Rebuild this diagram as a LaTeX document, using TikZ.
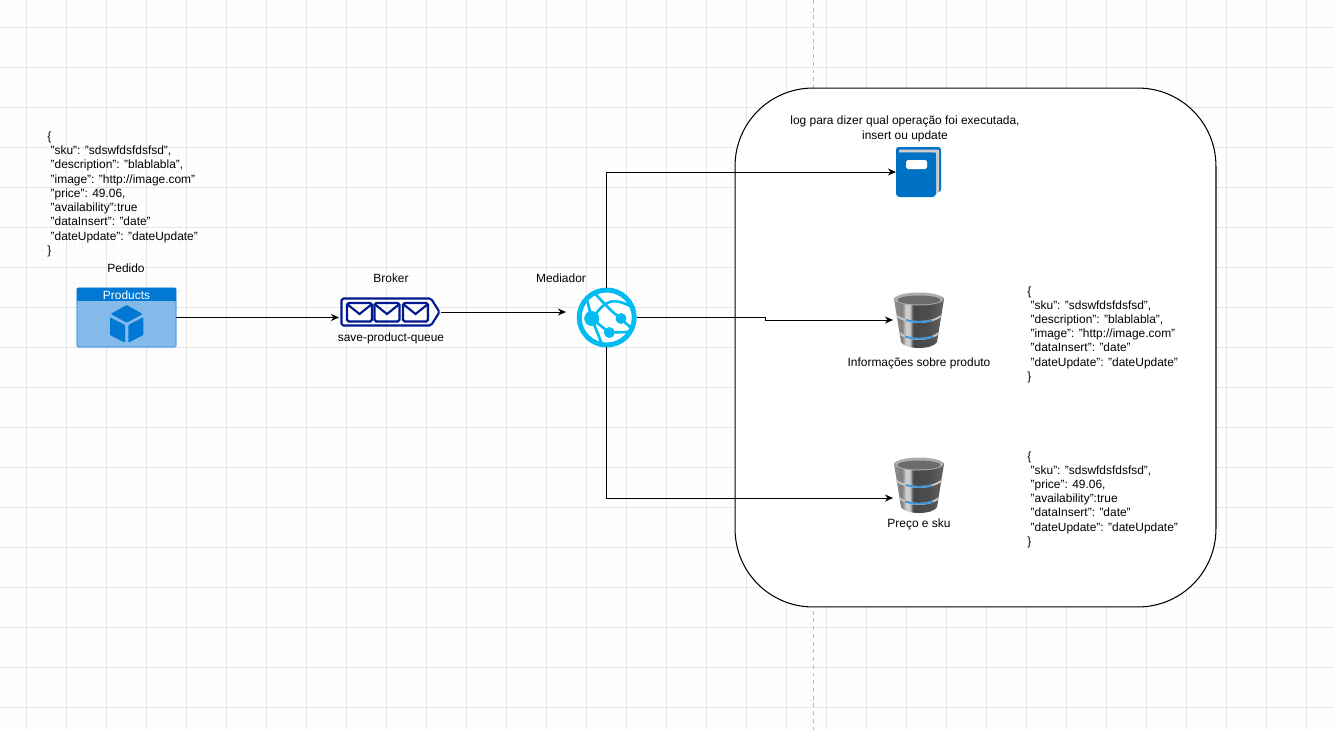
\documentclass[tikz,border=0pt]{standalone}
\usepackage{xcolor}
\usepackage{fontspec}
\setmainfont{Liberation Sans}
\usetikzlibrary{positioning, arrows.meta}

\definecolor{gradeforte}{HTML}{E6E6E6}
\definecolor{gradefraca}{HTML}{F9F9F9}
\definecolor{azulcaixa}{HTML}{0078D4}
\definecolor{azulclaro}{HTML}{83BAEA}
\definecolor{azulborda}{HTML}{5BA5E6}
\definecolor{azulfila}{HTML}{00188F}
\definecolor{azulglobo}{HTML}{00BCF2}
\definecolor{azullivro}{HTML}{0072C6}
\definecolor{azulbanco}{HTML}{3C96DC}

\pgfdeclarehorizontalshading{bancocorpo}{100bp}{
	color(0bp)=(black!42); color(25bp)=(black!45); color(33bp)=(black!50);
	color(37bp)=(black!18); color(41bp)=(black!22); color(44bp)=(black!72);
	color(60bp)=(black!70); color(80bp)=(black!58); color(100bp)=(black!42)}

\tikzset{
	texto/.style={font=\fontsize{6.8}{8.1}\selectfont, inner sep=0pt, text=black},
	json/.style={texto, align=left, anchor=north west},
	seta/.style={-{Stealth[length=4.6pt,width=4pt]}, line width=0.55pt},
	icone/.style={inner sep=0pt, outer sep=0pt},
	pics/banco/.style={code={
		\shade[shading=bancocorpo] (-25,-21) .. controls (-25,-27) and (25,-27) .. (25,-21)
			-- (18,22) .. controls (14,30) and (-14,30) .. (-18,22) -- cycle;
		\fill[black!32] (0,-21) ellipse (24.5 and 6.5);
		\fill[black!58] (0,-20) ellipse (21.5 and 4.5);
		\draw[black!22, line width=1.1pt] (-22.5,-4) .. controls (-10,4) and (10,4) .. (22.5,-4);
		\draw[black!22, line width=1.1pt] (-20,13) .. controls (-10,21) and (10,21) .. (20,13);
		\draw[azulbanco, line width=1.1pt] (-13,0) .. controls (-4,2.5) and (4,2.5) .. (13,0);
		\draw[azulbanco, line width=1.1pt] (-14,16.5) .. controls (-4,19.5) and (4,19.5) .. (14,16.5);
	}}
}

\begin{document}
\begin{tikzpicture}[x=0.02cm, y=-0.02cm]
	\useasboundingbox (0,0) rectangle (1334,730);
	\fill[white] (0,0) rectangle (1334,730);

	% Grade
	\foreach \x in {2.67,10.67,...,1334} {\draw[gradefraca, line width=0.55pt] (\x,0) -- (\x,730);}
	\foreach \y in {3.3,11.3,...,730} {\draw[gradefraca, line width=0.55pt] (0,\y) -- (1334,\y);}
	\foreach \x in {26.67,66.67,...,1334} {\draw[gradeforte, line width=0.55pt] (\x,0) -- (\x,730);}
	\foreach \y in {27.3,67.3,...,730} {\draw[gradeforte, line width=0.55pt] (0,\y) -- (1334,\y);}

	% Quebra de pagina
	\draw[black!28, line width=0.55pt, dash pattern=on 2.2pt off 2.2pt] (813.3,0) -- (813.3,730);

	% Container
	\node[draw=black, fill=white, line width=0.6pt, rounded corners=1.56cm, minimum width=9.62cm, minimum height=10.38cm, inner sep=0pt] (container) at (975.5,347.5) {};

	% Pedido
	\node[icone, draw=azulborda, fill=azulclaro, line width=0.6pt, rounded corners=0.6pt, minimum width=1.98cm, minimum height=1.18cm] (products) at (126.5,317.5) {};
	\fill[azulcaixa] (77,288) rectangle (176,301);
	\node[texto, text=white] (productstitulo) at (126.5,295) {Products};
	\begin{scope}[azulcaixa, fill=azulcaixa, rounded corners=0.5pt]
		\fill (126.7,305) -- (142.7,314) -- (126.7,322.7) -- (110.7,314) -- cycle;
		\fill (110,317.3) -- (125,325) -- (125,342.7) -- (110,335) -- cycle;
		\fill (128.3,325) -- (143.3,317.3) -- (143.3,335) -- (128.3,342.7) -- cycle;
	\end{scope}
	\node[texto] (pedido) at (126,268) {Pedido};

	% Fila
	\node[icone, minimum width=2.04cm, minimum height=0.56cm] (fila) at (390,312) {};
	\draw[azulfila, line width=1.2pt, rounded corners=1pt] (341.5,298.5) -- (431,298.5) -- (439.5,312) -- (431,325.5) -- (341.5,325.5) -- cycle;
	\foreach \x in {347,374.5,403} {
		\draw[azulfila, line width=1.4pt, rounded corners=1pt] (\x,303) rectangle ++(25,18.5);
		\draw[azulfila, line width=1.2pt] (\x,304) -- ++(12.5,10) -- ++(12.5,-10);
	}
	\node[texto] (broker) at (391,278) {Broker};
	\node[texto] (filanome) at (391,338) {save-product-queue};

	% Mediador
	\node[circle, draw=azulglobo, fill=white, line width=2.8pt, minimum size=1.1cm, inner sep=0pt] (mediador) at (606.7,317.5) {};
	\begin{scope}[shift={(606.7,317.5)}, azulglobo, line width=1.5pt]
		\draw (-11.7,-24) .. controls (-2,-13) and (8,-3) .. (14.3,1) .. controls (18,5) and (22,8) .. (25,11);
		\draw (-12,-1) .. controls (-9,-8) and (-2,-14) .. (3.3,-15.6) .. controls (11,-18) and (21,-13) .. (28.3,-9);
		\draw (-15,1) -- (-20,-19);
		\draw (-15,1) -- (-5,26);
		\draw (-15,1) -- (2.6,15) -- (25,14.4);
		\fill (-15,1) circle (7.5);
		\fill (14.3,1) circle (5.5);
		\fill (2.6,15) circle (5.5);
	\end{scope}
	\node[texto] (mediadornome) at (561,278) {Mediador};

	% Livro
	\node[icone, minimum width=0.9cm, minimum height=1cm] (livro) at (918.5,172) {};
	\fill[azullivro, rounded corners=1.5pt] (896,147) rectangle (941,192);
	\fill[black!20] (899,149.5) -- (939,149.5) -- (939,191) -- (936,194) -- (936,152.5) -- (899,152.5) -- cycle;
	\fill[azullivro, rounded corners=2pt] (896,152.5) -- (936,152.5) -- (936,197) -- (896,197) -- cycle;
	\fill[white, rounded corners=1pt] (906,160) rectangle (927,169);
	\node[texto, align=center] (lognome) at (905,129) {log para dizer qual operação foi executada,\\insert ou update};

	% Bancos
	\node[icone, minimum width=1.04cm, minimum height=1.1cm] (bancoinfo) at (919,320) {};
	\pic at (919,320) {banco};
	\node[texto] (infonome) at (919,363) {Informações sobre produto};
	\node[icone, minimum width=1.04cm, minimum height=1.1cm] (bancopreco) at (919,485) {};
	\pic at (919,485) {banco};
	\node[texto] (preconome) at (919,524) {Preço e sku};
	\coordinate (entradapreco) at (893,498);
	\coordinate (entradamediador) at (566,312);

	% Setas
	\draw[seta] (products.east) -- (products.east -| fila.west);
	\draw[seta] (fila.east) -- (entradamediador);
	\draw[seta] (mediador.north) |- (livro.west);
	\draw[seta] (mediador.east) -- (765,317.5) -- (765,320) -- (bancoinfo.west);
	\draw[seta] (mediador.south) |- (entradapreco);

	% JSON
	\node[json] (jsonpedido) at (47,131.5) {\{\\
		\ "sku": "sdswfdsfdsfsd",\\
		\ "description": "blablabla",\\
		\ "image": "http://image.com"\\
		\ "price": 49.06,\\
		\ "availability":true\\
		\ "dataInsert": "date"\\
		\ "dateUpdate": "dateUpdate"\\
		\}};
	\node[json] (jsoninfo) at (1027,286) {\{\\
		\ "sku": "sdswfdsfdsfsd",\\
		\ "description": "blablabla",\\
		\ "image": "http://image.com"\\
		\ "dataInsert": "date"\\
		\ "dateUpdate": "dateUpdate"\\
		\}};
	\node[json] (jsonpreco) at (1027,451) {\{\\
		\ "sku": "sdswfdsfdsfsd",\\
		\ "price": 49.06,\\
		\ "availability":true\\
		\ "dataInsert": "date"\\
		\ "dateUpdate": "dateUpdate"\\
		\}};
\end{tikzpicture}
\end{document}
